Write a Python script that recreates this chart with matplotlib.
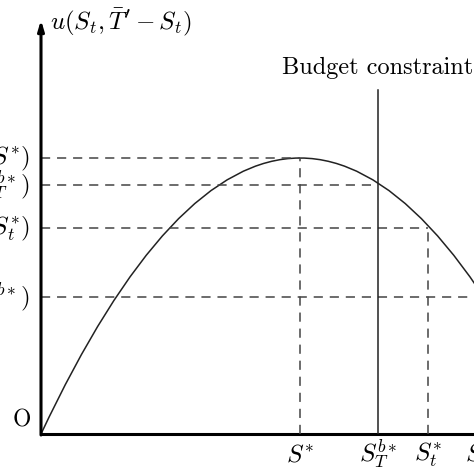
import matplotlib.pyplot as plt
from matplotlib.path import Path
from matplotlib.patches import PathPatch

plt.rcParams['mathtext.fontset'] = 'cm'

# points on the S axis (pixel-like units from the origin)
s_names = [r'$S^{*}$', r'$S_T^{b*}$', r'$S_t^{*}$', r'$S_t^{b*}$']
s_vals = [259, 337, 387, 443]
# utility levels of those points
u_names = [r'$u(S^{*})$', r'$u(S_T^{b*})$', r'$u(S_t^{*})$', r'$u(S_t^{b*})$']
u_vals = [276, 249, 206, 137]
# curve: quadratic bezier start / control / end
curve_pts = [(0, 0), (259, 552), (518, 0)]
budget_top = 344

fig = plt.figure(figsize=(4.74, 4.74), dpi=100)
ax = fig.add_axes([41 / 474, 40 / 474, 499 / 474, 412 / 474])
ax.set_xlim(0, 499)
ax.set_ylim(0, 412)
for sp in ax.spines.values():
    sp.set_visible(False)
ax.set_xticks([])
ax.set_yticks([])

# axes
ax.plot([0, 499], [0, 0], color='black', lw=2.2, clip_on=False, solid_capstyle='butt')
ax.annotate('', xy=(0, 414), xytext=(0, -1), annotation_clip=False,
            arrowprops=dict(arrowstyle='-|>,head_length=0.6,head_width=0.18',
                            color='black', lw=2.2, shrinkA=0, shrinkB=0))

# utility curve
path = Path(curve_pts, [Path.MOVETO, Path.CURVE3, Path.CURVE3])
ax.add_patch(PathPatch(path, facecolor='none', edgecolor='#222222', lw=1.1))

dash = dict(color='#444444', lw=1.1, dashes=(6, 4.5))
# horizontal guides: to S*, to budget line, to S_t*, past the right edge
ends = [s_vals[0], s_vals[1], s_vals[2], s_vals[3]]
for u, e in zip(u_vals, ends):
    ax.plot([0, e], [u, u], **dash)
# vertical guides
ax.plot([s_vals[0], s_vals[0]], [0, u_vals[0]], **dash)
ax.plot([s_vals[2], s_vals[2]], [0, u_vals[2]], **dash)
ax.plot([s_vals[3], s_vals[3]], [0, u_vals[3]], **dash)

# budget constraint
ax.plot([s_vals[1], s_vals[1]], [0, budget_top], color='#222222', lw=1.1)
ax.text(s_vals[1], budget_top + 22, 'Budget constraint', family='cmr10',
        fontsize=17.5, ha='center', va='center')

# labels
for name, s in zip(s_names, s_vals):
    ax.text(s, -21, name, fontsize=18, ha='center', va='center', clip_on=False)
for name, u in zip(u_names, u_vals):
    ax.text(-11, u, name, fontsize=18, ha='right', va='center', clip_on=False)
ax.text(-19, 14, 'O', family='cmr10', fontsize=17, ha='center', va='center')
ax.text(9, 412, r"$u(S_t,\bar{T}' - S_t)$", fontsize=18, ha='left', va='center',
        clip_on=False)

fig.savefig('out.png', dpi=100, facecolor='white')
